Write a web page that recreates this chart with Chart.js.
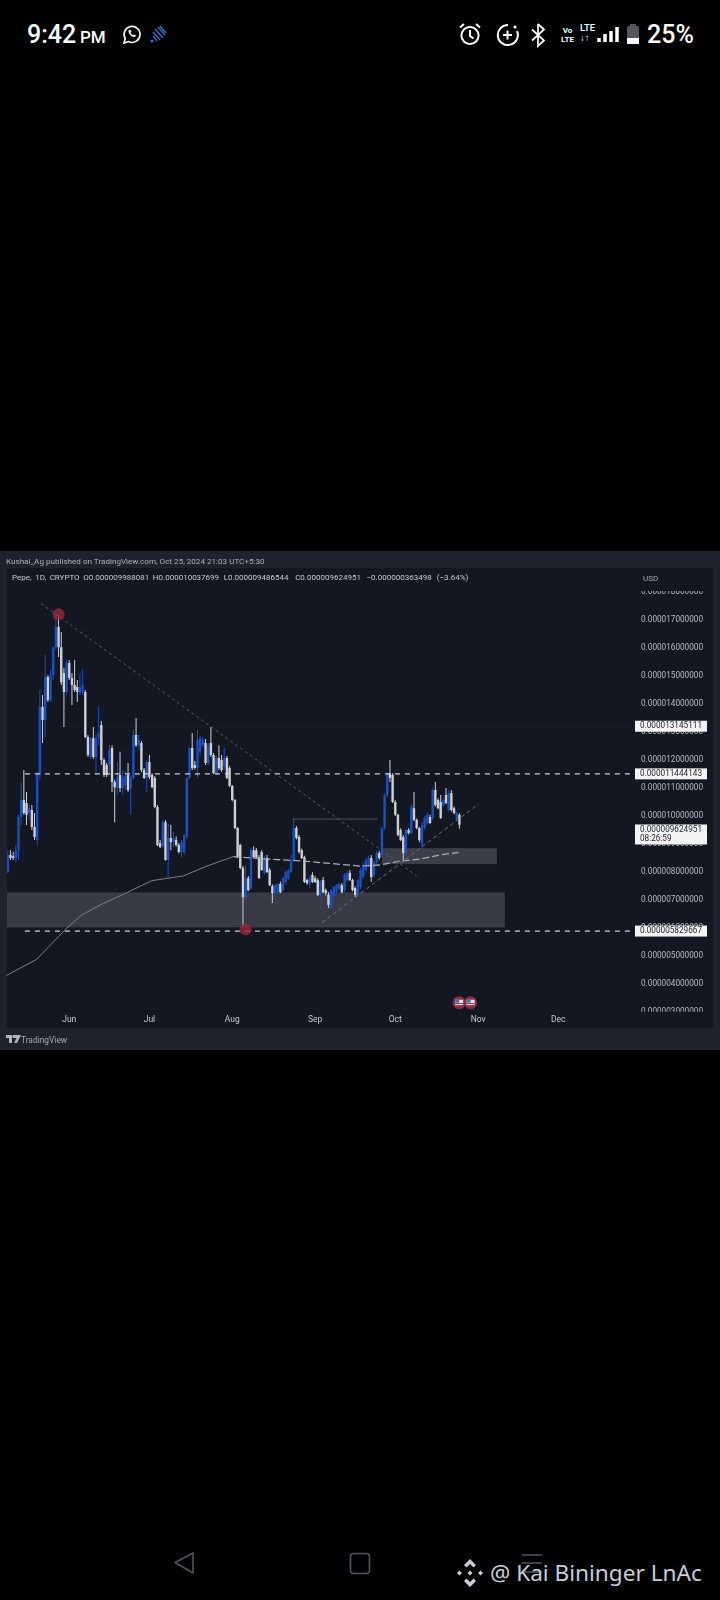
<!DOCTYPE html>
<html><head><meta charset="utf-8">
<script src="https://cdn.jsdelivr.net/npm/chart.js@4"></script>
<style>
html,body{margin:0;padding:0;background:#000;width:720px;height:1600px;overflow:hidden}
.a{position:absolute;white-space:nowrap}
#panel{left:0;top:551px;width:720px;height:499px;background:#1e222d}
#plot{left:7px;top:568px;width:706px;height:460px;background:#121722}
#wrap{left:0;top:551px;width:720px;height:499px;filter:blur(.35px)}
canvas{display:block}
.hd{font:8px Roboto,sans-serif;color:#b9bcc4}
</style></head><body>
<div class="a" id="panel"></div><div class="a" id="plot"></div>
<div class="a" id="wrap"><canvas id="c" width="720" height="499"></canvas></div>
<div class="a hd" style="left:6px;top:556px;color:#aeb1b9;font-size:8.1px">Kushal_Ag published on TradingView.com, Oct 25, 2024 21:03 UTC+5:30</div>
<div class="a hd" style="left:12px;top:573px;color:#c8cad0;font-size:8px;word-spacing:1.6px">Pepe, 1D, CRYPTO O0.000009988081 H0.000010037699 <span style="margin-left:1px">L0.000009486544</span> <span style="margin-left:3px">C0.000009624951</span> <span style="margin-left:2px">−0.000000363498</span> <span style="margin-left:1.5px">(−3.64%)</span></div>
<div class="a" style="left:637px;top:570px;width:75px;height:20.5px;background:#121722;border-radius:2px"></div>
<div class="a hd" style="left:643px;top:574px;color:#a4a7af">USD</div>
<svg class="a" style="left:6px;top:1035px" width="15" height="10" viewBox="0 0 15 10"><path d="M0 0h6v8H3V3H0zM7 0h8l-4 8H8l2.500-5H7z" fill="#b2b5be"/><circle cx="7.600" cy="1.500" r="1.200" fill="#b2b5be"/></svg>
<div class="a" style="left:21px;top:1035px;font:8.4px Roboto,sans-serif;color:#a6a9b1">TradingView</div>

<!-- status bar -->
<div class="a" style="left:27px;top:20px;font:500 25px/30px Roboto,sans-serif;color:#fff">9:42</div>
<div class="a" style="left:80px;top:26px;font:500 17px/22px Roboto,sans-serif;color:#fff">PM</div>
<svg class="a" style="left:120px;top:23px" width="52" height="24" viewBox="0 0 52 24" fill="none">
<path d="M4 20l1.200-4.500A8 8 0 1 1 8.600 18.600z" stroke="#fff" stroke-width="1.600"/>
<path d="M8.500 7.500c-.5 3 3.500 7 6.500 6.500l1-1.600-2-1-1 .8c-1-.4-2-1.400-2.400-2.400l.8-1-1-2z" fill="#fff"/>
<g stroke="#2f6fd6" stroke-width="1.400"><path d="M38 4l7 8M35 6l8 9M33 9l7 8M40 3l6 7M33 13l4 5"/></g><circle cx="32" cy="18" r="1.600" fill="#2f6fd6"/></svg>
<svg class="a" style="left:455px;top:20px" width="240" height="30" viewBox="0 0 240 30" fill="none" stroke="#fff" stroke-width="2">
<circle cx="15" cy="15.500" r="8.600"/><path d="M15 10v6l3.500 2.500M5 7.500l4-3.500M25 7.500l-4-3.500"/>
<path d="M53 5a10 10 0 1 0 9 6"/><path d="M52.500 10.500v9M48 15h9"/><circle cx="60" cy="7" r="1.600" fill="#fff" stroke="none"/>
<path d="M83 4l6 5.500-6 5.500 6 5.500-6 5.500V4M77 9.500l6 5.500M77 20.500l6-5.500" stroke-width="1.700"/>
<path d="M144 22V18M150 22V14M156 22V11M162 22V7" stroke-width="3.500"/>
<rect x="172" y="6" width="12" height="18" rx="1.500" fill="#55575a" stroke="none"/><rect x="172" y="18" width="12" height="6" fill="#fff" stroke="none"/><rect x="175" y="4" width="6" height="2" fill="#55575a" stroke="none"/>
</svg>
<div class="a" style="left:561px;top:26px;font:700 8px/9px Roboto,sans-serif;color:#fff;text-align:center">Vo<br>LTE</div>
<div class="a" style="left:580px;top:23px;font:500 9.500px/10px Roboto,sans-serif;color:#fff">LTE<br>↓↑</div>
<div class="a" style="left:647px;top:20px;font:500 25px/30px Roboto,sans-serif;color:#fff">25%</div>

<!-- nav bar -->
<svg class="a" style="left:170px;top:1548px" width="380" height="30" viewBox="0 0 380 30" fill="none" stroke="#4d5360" stroke-width="1.600">
<path d="M23 5L5 14.500 23 25z" stroke-linejoin="round"/><rect x="180.500" y="5.500" width="19" height="20" rx="3"/><path d="M352 7h20M352 15h20M352 24h20"/></svg>
<svg class="a" style="left:456px;top:1559px" width="28" height="28" viewBox="0 0 28 28" fill="#c9cdd5"><path d="M14 0l6 6-2.500 2.500L14 5l-3.500 3.500L8 6zM3.500 11.500L6 14l-2.500 2.500L1 14zM24.500 11.500L27 14l-2.500 2.500L22 14zM14 11.500l2.500 2.500-2.500 2.500-2.500-2.500zM8 22l2.500-2.500L14 23l3.500-3.500L20 22l-6 6z"/></svg>
<div class="a" style="left:490px;top:1557px;font:22.600px/32px 'Noto Sans',sans-serif;color:#c9cdd5">@ Kai Bininger LnAc</div>

<script>
// ---- data (prices in millionths of a USD) ----
const monthLabels = ['Jun','Jul','Aug','Sep','Oct','Nov','Dec'];
const monthDays   = [0,30,61,92,122,153,183];          // days since 1 Jun
const priceTicks  = [3,4,5,6,7,8,9,10,11,12,13,14,15,16,17,18];
const firstCandleDay = -23;

const open = [7.94,8.55,8.50,8.44,8.72,9.90,10.51,10.40,10.05,10.15,9.55,9.08,11.40,13.83,13.37,14.90,14.08,14.97,15.97,16.69,15.97,15.05,14.37,15.40,14.87,14.62,14.55,14.33,14.37,14.37,12.76,12.05,12.72,12.05,12.72,13.19,11.94,11.76,11.76,12.37,11.15,10.94,11.40,10.94,11.05,11.40,10.94,11.30,12.83,12.47,12.55,11.58,11.30,11.87,11.40,11.30,10.26,8.97,8.87,9.72,8.37,9.15,9.01,9.08,8.90,8.65,8.65,9.19,11.30,12.37,11.76,11.65,12.23,12.47,12.55,11.83,12.55,12.12,11.47,12.01,11.94,11.69,12.01,11.65,11.01,10.51,9.51,8.90,8.08,7.04,7.72,7.37,8.72,8.72,8.47,8.65,7.90,8.44,8.01,7.44,7.19,7.22,7.51,7.29,7.58,7.72,7.94,8.37,9.51,9.19,8.72,8.47,7.65,7.54,7.83,7.72,7.65,7.12,7.65,7.29,7.12,6.65,7.08,7.22,7.33,7.47,7.29,7.65,7.90,7.65,7.37,7.12,7.40,7.76,8.01,8.19,8.44,7.83,8.29,8.62,8.55,9.51,10.69,11.47,11.40,10.44,9.98,9.44,9.19,8.62,9.44,9.33,10.22,9.80,9.51,8.90,9.51,9.69,9.90,9.87,10.87,10.51,10.44,10.33,10.69,10.15,10.76,10.22,9.80,9.988];
const high = [8.72,8.72,8.65,8.90,9.98,11.12,11.58,10.80,10.33,10.33,10.05,11.51,14.44,14.26,15.69,14.97,15.15,16.00,17.19,17.12,16.51,15.23,15.51,15.51,15.05,15.51,14.80,15.05,15.19,14.44,12.83,12.76,13.12,12.83,13.83,13.33,12.01,11.83,12.47,12.47,11.23,11.87,12.23,11.58,11.55,11.83,11.40,13.01,13.44,12.83,12.62,11.65,11.94,12.12,11.47,11.37,10.33,9.08,9.78,9.80,9.65,9.62,9.37,9.22,8.97,9.08,9.30,11.33,12.40,12.90,11.90,13.01,12.80,12.75,12.69,12.55,13.12,12.19,12.08,12.47,12.12,12.37,12.08,11.72,11.05,10.55,9.55,8.95,8.15,8.19,7.80,8.80,8.85,8.80,8.55,8.72,8.52,8.55,8.08,7.50,7.54,7.55,7.60,7.76,8.00,8.05,8.55,9.87,9.58,9.26,8.78,8.52,7.70,7.83,7.94,7.80,7.72,7.65,7.76,7.35,7.22,7.33,7.44,7.51,7.55,7.54,7.90,7.97,8.01,7.70,7.42,7.70,8.08,8.28,8.45,8.52,8.55,8.35,8.68,8.70,9.56,10.74,11.50,11.94,11.47,10.50,10.02,9.50,9.26,9.48,9.50,10.35,10.80,9.85,9.55,9.72,9.95,10.05,9.98,10.92,11.15,10.57,10.69,10.60,10.94,10.85,10.87,10.28,10.10,10.038];
const low = [7.90,8.37,8.37,8.29,8.37,9.62,9.98,9.62,9.80,9.44,9.08,8.90,11.23,12.55,12.76,14.01,14.01,14.80,15.87,15.62,14.62,13.12,14.26,14.80,13.90,14.37,14.01,14.26,14.26,12.72,12.05,11.98,11.98,11.40,12.47,11.76,11.33,11.33,11.40,10.80,9.72,10.69,10.80,10.69,10.87,10.80,9.98,11.23,12.40,12.30,11.51,11.26,10.80,11.26,10.94,10.22,8.87,8.80,8.80,8.34,7.76,8.72,8.83,8.85,8.60,8.47,8.55,9.12,11.23,11.58,11.60,11.30,12.10,12.40,11.76,11.76,12.05,11.44,11.40,11.58,11.51,11.58,11.26,10.98,10.47,9.47,8.44,8.05,5.97,6.94,7.25,7.30,8.44,8.42,7.70,7.98,7.85,7.90,7.44,6.83,7.04,7.15,7.18,7.25,7.50,7.65,7.90,8.30,9.10,8.60,8.40,7.55,7.48,7.37,7.55,7.55,7.08,7.05,7.18,7.10,6.65,6.60,7.00,7.18,7.28,7.18,7.22,7.58,7.62,7.25,7.05,7.05,7.33,7.70,7.95,8.12,7.58,7.75,8.22,8.38,8.45,9.45,10.60,11.15,10.40,9.94,9.22,9.05,8.37,8.55,9.28,9.30,9.75,9.47,9.00,8.80,9.45,9.62,9.65,9.80,10.28,10.18,9.83,10.28,10.36,10.10,10.10,10.00,9.75,9.487];
const close = [8.55,8.44,8.44,8.72,9.90,10.51,10.05,9.98,10.22,9.55,9.19,11.40,13.83,13.37,14.90,14.08,14.97,15.97,16.69,15.97,14.72,14.37,15.40,14.87,14.62,14.44,14.37,14.55,14.62,12.76,12.12,12.72,12.05,12.72,12.90,11.94,11.40,11.40,12.30,11.15,10.97,11.33,10.94,11.30,11.37,10.87,11.30,12.83,12.47,12.65,11.58,11.30,11.87,11.33,10.97,10.26,8.90,8.83,9.72,8.37,9.15,9.01,9.15,8.90,8.65,9.01,9.26,11.30,12.37,11.65,11.65,12.65,12.72,12.65,11.83,12.47,12.12,11.47,12.01,11.65,11.58,12.01,11.30,11.01,10.51,9.51,8.47,8.08,7.04,7.72,7.29,8.72,8.47,8.47,7.72,8.01,8.44,7.94,7.47,7.19,7.47,7.51,7.22,7.72,7.94,8.01,8.37,9.51,9.15,8.65,8.44,7.58,7.54,7.72,7.58,7.58,7.12,7.61,7.22,7.19,6.76,7.29,7.40,7.47,7.51,7.22,7.83,7.90,7.65,7.29,7.12,7.65,8.01,8.19,8.37,8.44,7.76,8.29,8.62,8.44,9.51,10.69,11.47,11.30,10.44,9.98,9.26,9.08,8.62,9.44,9.33,10.26,9.80,9.51,9.08,9.62,9.87,9.98,9.69,10.87,10.33,10.22,9.87,10.51,10.40,10.76,10.15,10.05,10.05,9.625];

const maDays   = [-23.4,-12.2,-1,4.6,11.5,21.5,30.9,42.7,51.5,61.4,73.9,86.4,108.9,116.4,123.8,131.4,138.8,145.7];
const maValues = [4.25,4.82,5.93,6.40,6.76,7.20,7.63,7.80,8.15,8.49,8.40,8.34,8.15,8.19,8.33,8.40,8.55,8.64];

const trendDown = {days:[-10.6,130],  values:[17.53,7.80]};
const trendUp   = {days:[94.5,153.1], values:[6.13,10.36]};
const rangeTop  = {days:[83.8,115.5], values:[9.83,9.83]};
const levelDays = [-16.6,211.7];
const levelHigh = [11.444,11.444];
const levelLow  = [5.83,5.83];
const faintDays = [-3,211.7];
const faintLevel= [13.145,13.145];

const zoneLower = {days:[-23.3,163],  values:[7.21,5.96], fill:'#383b45'};
const zoneUpper = {days:[117,160],    values:[8.79,8.22], fill:'#3c3f49'};

const pivotDays   = [-4,66];
const pivotValues = [17.14,5.89];
const eventDays   = [145.9,150.2];
const eventValues = [3.27,3.27];

const priceBoxes = [
  {value:13.145111, text:['0.000013145111']},
  {value:11.444143, text:['0.000011444143']},
  {value:5.829667,  text:['0.000005829667']},
  {value:9.28,      text:['0.000009624951','08:26:59']}
];

// ---- chart ----
const UP='#1b4fc2', DOWN='#cfd0d4';
const pts=(xs,ys)=>xs.map((x,i)=>({x,y:ys[i]}));
const candleDay=open.map((_,i)=>firstCandleDay+i);
const colours=open.map((o,i)=>close[i]>=o?UP:DOWN);
const line=(xs,ys,color,width,dash,order)=>({type:'line',data:pts(xs,ys),borderColor:color,borderWidth:width,borderDash:dash,pointRadius:0,tension:0,order,clip:false});

const chartPlugin={id:'overlay',
  beforeDatasetsDraw(ch){
    const c=ch.ctx,x=ch.scales.x,y=ch.scales.y;
    for(const z of [zoneLower,zoneUpper]){
      const l=x.getPixelForValue(z.days[0]),r=x.getPixelForValue(z.days[1]);
      const t=y.getPixelForValue(z.values[0]),b=y.getPixelForValue(z.values[1]);
      c.fillStyle=z.fill;c.fillRect(l,t,r-l,b-t);
    }
  },
  afterDatasetsDraw(ch){
    const c=ch.ctx,x=ch.scales.x,y=ch.scales.y,a=ch.chartArea;
    // bottom axis band hides the lower part of the last price tick
    c.fillStyle='#121722';c.fillRect(a.left,a.bottom,a.right-a.left,16.3);
    // event flags
    eventDays.forEach((d,i)=>{
      const px=x.getPixelForValue(d),py=y.getPixelForValue(eventValues[i]);
      c.fillStyle='#dfe3ea';c.fillRect(px-4,py-3,8,6);
      c.fillStyle='#8f2c3a';c.fillRect(px-4,py+.4,8,1);c.fillRect(px-4,py+2.4,8,.8);
      c.fillStyle='#3f6fc4';c.fillRect(px-4,py-3,4,3);
    });
    // last-price boxes
    c.textBaseline='middle';c.textAlign='left';c.font='8.2px Roboto,sans-serif';
    for(const b of priceBoxes){
      const py=y.getPixelForValue(b.value),h=b.text.length>1?20:11;
      const top=py-h/2;
      c.fillStyle='#f4f4f5';c.fillRect(635,top,72,h);
      c.fillStyle='#23262e';
      b.text.forEach((t,i)=>c.fillText(t,640,top+(b.text.length>1?5.2+i*9.4:h/2)));
    }
  }
};

const maLine=line(maDays,maValues,'#7c7f86',1,[],3);
maLine.segment={
  borderColor:s=>s.p0.parsed.x>=61?'#a9abb0':undefined,
  borderDash:s=>s.p0.parsed.x>=61?[7,3]:undefined,
  borderWidth:s=>s.p0.parsed.x>=61?1.3:undefined
};

new Chart(document.getElementById('c'),{
  type:'bar',
  data:{datasets:[
    {data:pts(candleDay,low.map((v,i)=>[v,high[i]])),backgroundColor:colours,barThickness:1,grouped:false,order:5,inflateAmount:0},
    {data:pts(candleDay,open.map((v,i)=>[v,close[i]])),backgroundColor:colours,barThickness:2.4,grouped:false,order:4,inflateAmount:0},
    maLine,
    line(trendDown.days,trendDown.values,'#5a5e67',1,[3,3],2),
    line(trendUp.days,trendUp.values,'#6b6f78',1,[4,3],2),
    line(rangeTop.days,rangeTop.values,'#4c5059',1,[],2),
    line(faintDays,faintLevel,'#22262f',1,[2,2],6),
    line(levelDays,levelHigh,'#cfd0d4',1.3,[5,5],1),
    line(levelDays,levelLow,'#cfd0d4',1.3,[5,5],1),
    {type:'scatter',data:pts(pivotDays,pivotValues),backgroundColor:'rgba(150,38,55,.82)',borderWidth:0,pointRadius:6,order:0,clip:false},
    {type:'scatter',data:pts(eventDays,eventValues),backgroundColor:'#8f2c3a',borderWidth:0,pointRadius:6.5,order:0,clip:false}
  ]},
  options:{
    responsive:false,animation:false,devicePixelRatio:1,
    layout:{padding:{left:7,right:7,top:17,bottom:22}},
    plugins:{legend:{display:false},tooltip:{enabled:false},title:{display:false}},
    scales:{
      x:{type:'linear',position:'bottom',min:-23.3,max:240.9,offset:false,
        grid:{display:false,offset:false,drawTicks:false},border:{display:false},
        afterBuildTicks(s){s.ticks=monthDays.map(v=>({value:v}))},
        afterFit(s){s.height=16.3},
        ticks:{z:2,autoSkip:false,maxRotation:0,minRotation:0,padding:3.5,color:'#c6c8ce',font:{family:'Roboto',size:8.5},
          callback:(v)=>monthLabels[monthDays.indexOf(v)]}},
      y:{type:'linear',position:'right',min:2.95,max:18.796,
        grid:{display:false,drawTicks:false},border:{display:false},
        afterBuildTicks(s){s.ticks=priceTicks.map(v=>({value:v}))},
        afterFit(s){s.width=0},
        ticks:{mirror:true,padding:-10,labelOffset:1.5,color:'#b7bac1',font:{family:'Roboto',size:8.2},
          callback:(v)=>(v/1e6).toFixed(12)}}
    }
  },
  plugins:[chartPlugin]
});
</script>
</body></html>
